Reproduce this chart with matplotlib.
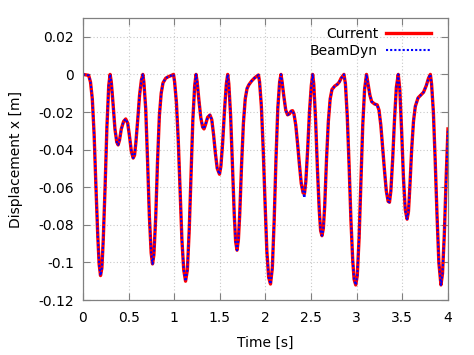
import matplotlib
matplotlib.use("Agg")
import matplotlib.pyplot as plt

plt.rcParams['font.family'] = 'DejaVu Sans'
plt.rcParams['axes.unicode_minus'] = False

# time [s] and tip displacement x [m]
time = [0.00, 0.062, 0.082, 0.102, 0.122, 0.142, 0.162, 0.177, 0.192, 0.207, 0.222, 0.242, 0.262, 0.282, 0.297,
        0.310, 0.330, 0.350, 0.370, 0.385, 0.400, 0.420, 0.445, 0.468, 0.490, 0.510, 0.530, 0.550, 0.565, 0.580, 0.600, 0.620, 0.640, 0.656,
        0.667, 0.687, 0.707, 0.727, 0.747, 0.762, 0.777, 0.797, 0.817, 0.837, 0.857, 0.877, 0.907, 0.937, 0.967, 0.992,
        1.004, 1.024, 1.044, 1.064, 1.084, 1.104, 1.124, 1.144, 1.164, 1.184, 1.204, 1.224, 1.239,
        1.251, 1.271, 1.291, 1.311, 1.326, 1.341, 1.366, 1.391, 1.411, 1.431, 1.451, 1.471, 1.496, 1.511, 1.531, 1.551, 1.571, 1.586,
        1.598, 1.618, 1.638, 1.658, 1.673, 1.688, 1.703, 1.718, 1.738, 1.758, 1.778, 1.798, 1.818, 1.848, 1.878, 1.903, 1.923,
        1.935, 1.955, 1.975, 1.995, 2.015, 2.035, 2.055, 2.075, 2.095, 2.115, 2.135, 2.155, 2.170,
        2.182, 2.202, 2.222, 2.242, 2.262, 2.282, 2.297, 2.312, 2.332, 2.352, 2.372, 2.392, 2.412, 2.427, 2.442, 2.462, 2.482, 2.502, 2.517,
        2.529, 2.549, 2.569, 2.589, 2.604, 2.619, 2.634, 2.649, 2.669, 2.689, 2.709, 2.729, 2.759, 2.789, 2.809, 2.829, 2.860,
        2.876, 2.896, 2.916, 2.936, 2.956, 2.971, 2.989, 3.006, 3.026, 3.046, 3.066, 3.086, 3.107,
        3.124, 3.144, 3.164, 3.194, 3.224, 3.244, 3.264, 3.284, 3.304, 3.324, 3.344, 3.359, 3.374, 3.394, 3.414, 3.434, 3.455,
        3.472, 3.492, 3.512, 3.532, 3.552, 3.567, 3.582, 3.602, 3.622, 3.642, 3.672, 3.702, 3.732, 3.762, 3.787, 3.807,
        3.82, 3.84, 3.86, 3.88, 3.90, 3.923, 3.94, 3.96, 3.98, 4.00]

current = [0.0, -0.0005, -0.004, -0.013, -0.032, -0.060, -0.086, -0.101, -0.107, -0.103, -0.088, -0.060, -0.028, -0.006, 0.0,
           -0.004, -0.016, -0.029, -0.036, -0.0375, -0.035, -0.029, -0.025, -0.0237, -0.026, -0.033, -0.041, -0.0445, -0.043, -0.036, -0.024, -0.011, -0.003, 0.0,
           -0.004, -0.018, -0.045, -0.075, -0.095, -0.1008, -0.096, -0.076, -0.046, -0.022, -0.010, -0.0045, -0.002, -0.0012, -0.0006, 0.0,
           -0.004, -0.015, -0.035, -0.062, -0.088, -0.104, -0.110, -0.104, -0.083, -0.053, -0.024, -0.006, 0.0,
           -0.004, -0.014, -0.023, -0.028, -0.029, -0.027, -0.0228, -0.0216, -0.024, -0.032, -0.042, -0.050, -0.0531, -0.049, -0.036, -0.019, -0.005, 0.0,
           -0.005, -0.022, -0.048, -0.075, -0.089, -0.0935, -0.088, -0.074, -0.048, -0.026, -0.013, -0.0075, -0.0055, -0.0035, -0.002, -0.001, -0.0003,
           -0.004, -0.017, -0.040, -0.068, -0.094, -0.108, -0.1115, -0.103, -0.078, -0.045, -0.018, -0.004, 0.0,
           -0.004, -0.012, -0.019, -0.0215, -0.021, -0.0195, -0.0193, -0.021, -0.027, -0.037, -0.048, -0.058, -0.0630, -0.0635, -0.057, -0.040, -0.020, -0.006, 0.0,
           -0.005, -0.024, -0.050, -0.072, -0.083, -0.0858, -0.082, -0.070, -0.045, -0.025, -0.013, -0.008, -0.0062, -0.0052, -0.004, -0.002, 0.0,
           -0.005, -0.022, -0.048, -0.077, -0.099, -0.109, -0.112, -0.107, -0.087, -0.057, -0.027, -0.008, 0.0,
           -0.005, -0.011, -0.0145, -0.0157, -0.0162, -0.019, -0.027, -0.039, -0.051, -0.062, -0.0675, -0.068, -0.062, -0.045, -0.024, -0.007, 0.0,
           -0.008, -0.030, -0.055, -0.072, -0.077, -0.073, -0.060, -0.040, -0.025, -0.017, -0.0125, -0.011, -0.0095, -0.006, -0.002, 0.0,
           -0.005, -0.020, -0.046, -0.075, -0.100, -0.112, -0.106, -0.085, -0.055, -0.029]

# BeamDyn follows the same path, only the dip near 2.4 s goes a little deeper
beamdyn = list(current)
beamdyn[time.index(2.427)] = -0.0656

fig = plt.figure(figsize=(4.74, 3.55), dpi=100)
ax = fig.add_axes([0.1751, 0.1549, 0.7700, 0.7944])

ax.plot(time, current, color='red', lw=2.4, label='Current')
ax.plot(time, beamdyn, color='blue', lw=1.5, ls=(0, (1, 1)), label='BeamDyn')

ax.set_xlim(0, 4)
ax.set_ylim(-0.12, 0.03)
ax.set_xticks([0, 0.5, 1, 1.5, 2, 2.5, 3, 3.5, 4])
ax.set_xticklabels(['0', '0.5', '1', '1.5', '2', '2.5', '3', '3.5', '4'])
ax.set_yticks([0.02, 0, -0.02, -0.04, -0.06, -0.08, -0.1, -0.12])
ax.set_yticklabels(['0.02', '0', '-0.02', '-0.04', '-0.06', '-0.08', '-0.1', '-0.12'])

ax.grid(True, color='#c8c8c8', ls=(0, (1, 2)), lw=0.8)
ax.tick_params(direction='in', top=True, right=True, length=5, width=0.8,
               color='#808080', labelsize=10)
ax.tick_params(axis='y', pad=6.5)
ax.tick_params(axis='x', pad=8)
for s in ax.spines.values():
    s.set_color('#808080')
    s.set_linewidth(0.9)

ax.set_xlabel('Time [s]', fontsize=10, labelpad=8)
ax.set_ylabel('Displacement x [m]', fontsize=10, labelpad=11)

ax.legend(loc='upper right', bbox_to_anchor=(0.953, 0.967), frameon=False,
          markerfirst=False, fontsize=10, handlelength=3.2, handletextpad=0.6,
          borderpad=0, borderaxespad=0, labelspacing=0.2)

fig.savefig('out.png', dpi=100)
